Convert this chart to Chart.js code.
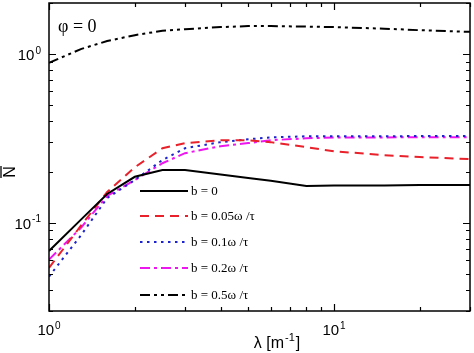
<!DOCTYPE html>
<html>
<head>
<meta charset="utf-8">
<script src="https://cdn.jsdelivr.net/npm/chart.js@4"></script>
<style>
  html, body { margin: 0; padding: 0; background: #fff; }
  #wrap { width: 474px; height: 353px; }
</style>
</head>
<body>
<div id="wrap"><canvas id="nChart" width="474" height="353"></canvas></div>
<script>
// wavelength values (x) and N-bar values (y)
var lambda = [1, 1.3, 1.6, 2, 2.5, 3, 4, 5, 6, 8, 10, 15, 20, 30];
var b0   = [0.068, 0.105, 0.148, 0.187, 0.205, 0.205, 0.193, 0.184, 0.177, 0.165, 0.166, 0.166, 0.167, 0.167];
var b005 = [0.054, 0.097, 0.152, 0.213, 0.276, 0.296, 0.308, 0.308, 0.300, 0.280, 0.265, 0.251, 0.245, 0.238];
var b01  = [0.048, 0.085, 0.140, 0.179, 0.235, 0.276, 0.300, 0.312, 0.320, 0.325, 0.325, 0.325, 0.326, 0.326];
var b02  = [0.0605, 0.094, 0.144, 0.179, 0.225, 0.258, 0.284, 0.296, 0.308, 0.316, 0.320, 0.320, 0.321, 0.321];
var b05  = [0.885, 1.07, 1.19, 1.29, 1.37, 1.40, 1.44, 1.46, 1.46, 1.45, 1.44, 1.41, 1.38, 1.35];

var seriesLabels = ['b = 0', 'b = 0.05\u03c9 /\u03c4', 'b = 0.1\u03c9 /\u03c4', 'b = 0.2\u03c9 /\u03c4', 'b = 0.5\u03c9 /\u03c4'];
var xMajor = [1, 10];
var yMajor = [0.1, 1];

function pts(ys) {
  return lambda.map(function (x, i) { return { x: x, y: ys[i] }; });
}

function mkSet(label, ys, color, dash) {
  return {
    label: label,
    data: pts(ys),
    borderColor: color,
    backgroundColor: color,
    borderWidth: 2,
    borderDash: dash,
    pointRadius: 0,
    showLine: true,
    tension: 0,
    fill: false
  };
}

// minor tick values for log axes
function logTicks(min, max) {
  var out = [];
  for (var e = -3; e <= 3; e++) {
    for (var m = 1; m <= 9; m++) {
      var v = m * Math.pow(10, e);
      if (v >= min * 0.999 && v <= max * 1.001) out.push(+v.toPrecision(3));
    }
  }
  return out;
}

function drawSup(ctx, base, sup, x, y, align, size) {
  var bf = size + 'px "Liberation Sans", Arial, sans-serif';
  var sf = Math.round(size * 0.68) + 'px "Liberation Sans", Arial, sans-serif';
  ctx.font = bf;
  var wb = ctx.measureText(base).width;
  ctx.font = sf;
  var ws = ctx.measureText(sup).width;
  var w = wb + ws + 1;
  var x0 = align === 'right' ? x - w : (align === 'center' ? x - w / 2 : x);
  ctx.textAlign = 'left';
  ctx.textBaseline = 'alphabetic';
  ctx.font = bf;
  ctx.fillText(base, x0, y);
  ctx.font = sf;
  ctx.fillText(sup, x0 + wb + 1, y - size * 0.42);
  return x0 + w;
}

var decor = {
  id: 'decor',
  afterDraw: function (chart) {
    var ctx = chart.ctx, a = chart.chartArea;
    var xs = chart.scales.x, ys = chart.scales.y;
    ctx.save();
    ctx.strokeStyle = '#000';
    ctx.fillStyle = '#000';
    ctx.setLineDash([]);
    ctx.lineWidth = 1.5;
    ctx.strokeRect(a.left, a.top, a.right - a.left, a.bottom - a.top);

    ctx.lineWidth = 1.2;
    ctx.beginPath();
    logTicks(xs.min, xs.max).forEach(function (v) {
      var px = Math.round(xs.getPixelForValue(v)) + 0.5;
      var len = xMajor.indexOf(v) >= 0 ? 7 : 4;
      ctx.moveTo(px, a.bottom); ctx.lineTo(px, a.bottom - len);
      ctx.moveTo(px, a.top); ctx.lineTo(px, a.top + len);
    });
    logTicks(ys.min, ys.max).forEach(function (v) {
      var py = Math.round(ys.getPixelForValue(v)) + 0.5;
      var len = yMajor.indexOf(v) >= 0 ? 7 : 4;
      ctx.moveTo(a.left, py); ctx.lineTo(a.left + len, py);
      ctx.moveTo(a.right, py); ctx.lineTo(a.right - len, py);
    });
    ctx.stroke();

    // tick labels
    ctx.fillStyle = '#000';
    drawSup(ctx, '10', '0', xs.getPixelForValue(1), a.bottom + 24, 'center', 15);
    drawSup(ctx, '10', '1', xs.getPixelForValue(10), a.bottom + 24, 'center', 15);
    drawSup(ctx, '10', '0', a.left - 8, ys.getPixelForValue(1) + 6, 'right', 15);
    drawSup(ctx, '10', '-1', a.left - 8, ys.getPixelForValue(0.1) + 6, 'right', 15);

    // x title
    ctx.font = '16px "Liberation Sans", Arial, sans-serif';
    var t1 = '\u03bb [m', wt1 = ctx.measureText(t1).width;
    ctx.font = '11px "Liberation Sans", Arial, sans-serif';
    var wsup = ctx.measureText('-1').width;
    ctx.font = '16px "Liberation Sans", Arial, sans-serif';
    var wt2 = ctx.measureText(']').width;
    var tx = 277 - (wt1 + wsup + wt2 + 2) / 2, ty = 348;
    ctx.textAlign = 'left';
    ctx.textBaseline = 'alphabetic';
    ctx.fillText(t1, tx, ty);
    ctx.font = '11px "Liberation Sans", Arial, sans-serif';
    ctx.fillText('-1', tx + wt1 + 1, ty - 7);
    ctx.font = '16px "Liberation Sans", Arial, sans-serif';
    ctx.fillText(']', tx + wt1 + wsup + 2, ty);

    // y title: N with overbar, rotated
    ctx.save();
    ctx.translate(15, 172);
    ctx.rotate(-Math.PI / 2);
    ctx.font = '16px "Liberation Sans", Arial, sans-serif';
    ctx.textAlign = 'center';
    ctx.fillText('N', 0, 0);
    ctx.lineWidth = 1.3;
    ctx.beginPath();
    ctx.moveTo(-6, -14); ctx.lineTo(6, -14);
    ctx.stroke();
    ctx.restore();

    // annotation
    ctx.font = '18px "Liberation Serif", "Times New Roman", serif';
    ctx.textAlign = 'left';
    ctx.fillText('\u03c6 = 0', 58, 32);

    // legend inside plot
    var rowsY = [191, 216, 242, 268, 295];
    chart.data.datasets.forEach(function (ds, i) {
      var y = rowsY[i];
      ctx.strokeStyle = ds.borderColor;
      ctx.lineWidth = 2;
      ctx.setLineDash(ds.borderDash || []);
      ctx.beginPath();
      ctx.moveTo(140, y); ctx.lineTo(188, y);
      ctx.stroke();
      ctx.setLineDash([]);
      ctx.fillStyle = '#000';
      ctx.font = '13px "Liberation Serif", "Times New Roman", serif';
      ctx.textBaseline = 'middle';
      ctx.fillText(ds.label, 191, y + 1);
    });
    ctx.restore();
  }
};

var ctx = document.getElementById('nChart');
var chart = new Chart(ctx, {
  type: 'scatter',
  data: {
    datasets: [
      mkSet(seriesLabels[0], b0, '#000000', []),
      mkSet(seriesLabels[1], b005, '#e8212b', [9, 6]),
      mkSet(seriesLabels[2], b01, '#1c23cf', [2.5, 4.5]),
      mkSet(seriesLabels[3], b02, '#ee16ee', [10, 4, 3, 4]),
      mkSet(seriesLabels[4], b05, '#000000', [10, 4, 3, 4, 3, 4])
    ]
  },
  options: {
    responsive: false,
    animation: false,
    layout: { padding: { left: 49, right: 4, top: 3, bottom: 42 } },
    plugins: { legend: { display: false }, tooltip: { enabled: false } },
    scales: {
      x: {
        type: 'logarithmic', min: 1, max: 30,
        ticks: { display: false },
        grid: { display: false, drawTicks: false },
        border: { display: false }
      },
      y: {
        type: 'logarithmic', min: 0.03, max: 2,
        ticks: { display: false },
        grid: { display: false, drawTicks: false },
        border: { display: false }
      }
    }
  },
  plugins: [decor]
});
</script>
</body>
</html>
